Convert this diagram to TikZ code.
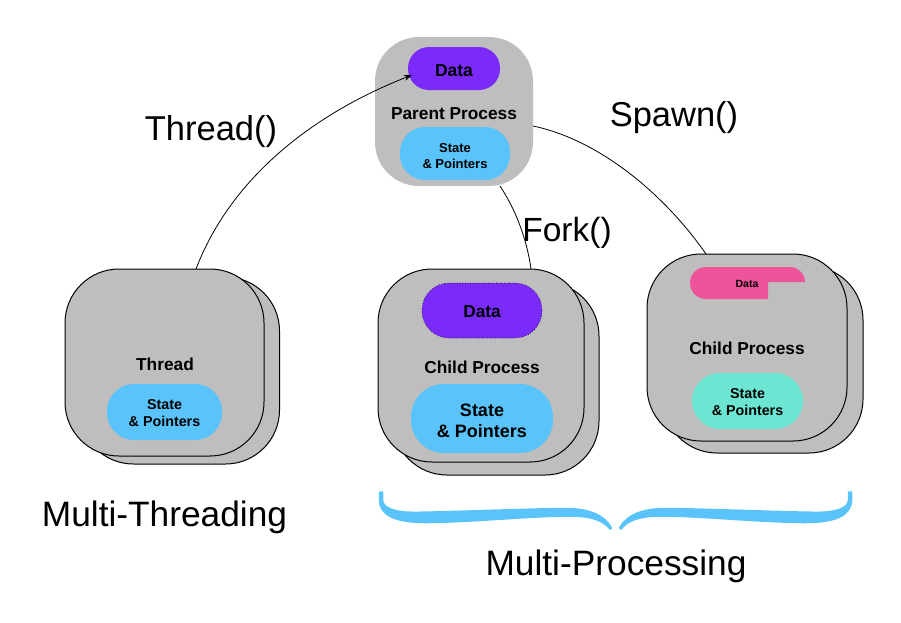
\documentclass[tikz,border=0pt]{standalone}
\usepackage{fontspec}
\setmainfont{Liberation Sans}
\definecolor{boxgrey}{HTML}{BEBEBE}
\definecolor{datapurple}{HTML}{7B2BF9}
\definecolor{stateblue}{HTML}{5AC3FA}
\definecolor{datapink}{HTML}{EE5499}
\definecolor{stateteal}{HTML}{6CE5D2}
\usetikzlibrary{arrows.meta}
\tikzset{
  bsize/.style 2 args={minimum width=#1pt,minimum height=#2pt},
  panel/.style={fill=boxgrey,draw=black,line width=1pt,rounded corners=54pt,inner sep=0pt,outer sep=0pt},
  parentpanel/.style={fill=boxgrey,rounded corners=44pt,inner sep=0pt,outer sep=0pt},
  pill/.style 2 args={inner sep=0pt,outer sep=0pt,align=center,font=\bfseries\fontsize{#1}{#2}\selectfont},
  caption/.style={inner sep=0pt,font=\bfseries\fontsize{17.3}{20}\selectfont},
  bigtext/.style={inner sep=0pt,font=\fontsize{#1}{40}\selectfont},
  bigtext/.default=34.5,
  link/.style={draw=black,line width=0.8pt},
  brace/.style={fill=stateblue,draw=stateblue,line width=1.5pt,line join=round}
}
\newcommand{\topgap}[1]{\rule{0pt}{#1pt}}
\begin{document}
\begin{tikzpicture}[x=1pt,y=-1pt]
\useasboundingbox (0,0) rectangle (901,622);
% parent
\node[parentpanel,bsize={158}{149}] (parent) at (454,111.5) {};
\node[pill={17.5}{20},fill=datapurple,rounded corners=21pt,bsize={92}{43}] (pdata) at (454,68.5) {\topgap{16.6}Data};
\node[caption] (ptext) at (454,114) {Parent Process};
\node[pill={13}{16},fill=stateblue,rounded corners=25pt,bsize={110}{53}] (pstate) at (455,153.5) {\topgap{13.4}State\\\& Pointers};
% thread
\node[panel,bsize={200}{187}] (tback) at (179.5,370.5) {};
\node[panel,bsize={199}{187}] (tfront) at (164.5,362.5) {};
\node[caption] (ttext) at (165,364) {Thread};
\node[pill={14.3}{17},fill=stateblue,rounded corners=27pt,bsize={115}{56}] (tstate) at (164.5,412) {\topgap{12.3}State\\\& Pointers};
% child fork
\node[panel,bsize={206}{193}] (cback) at (496,378.5) {};
\node[panel,bsize={206}{193}] (cfront) at (481,365.5) {};
\node[pill={17.3}{20},fill=datapurple,draw=black,dotted,line width=0.6pt,rounded corners=27pt,bsize={120}{55}] (cdata) at (482,310.5) {\topgap{14.5}Data};
\node[caption] (ctext) at (482,367) {Child Process};
\node[pill={18}{21},fill=stateblue,rounded corners=33pt,bsize={142}{69}] (cstate) at (482,418.5) {\topgap{17}State\\\& Pointers};
% child spawn
\node[panel,bsize={200}{187}] (sback) at (763,359.5) {};
\node[panel,bsize={200}{187}] (sfront) at (747,347.5) {};
\fill[datapink] (768,299) -- (706,299) .. controls (697,299) and (690,292) .. (690,283) .. controls (690,274) and (697,267) .. (706,267) -- (790,267) .. controls (798,267) and (805,274) .. (805,282) -- (768,282) -- cycle;
\node[pill={10.5}{13}] (sdata) at (747,284) {Data};
\node[caption] (stext) at (747,348.5) {Child Process};
\node[pill={14.3}{17},fill=stateteal,rounded corners=28pt,bsize={111}{56}] (sstate) at (747.5,401) {\topgap{12.3}State\\\& Pointers};
% connectors
\draw[link,-{Stealth[length=8pt,width=6pt]}] ([xshift=31.5pt]tfront.north) .. controls (230,180) and (310,115) .. ([shift={(4,6.5)}]pdata.west);
\draw[link] ([xshift=46pt]parent.south) .. controls (516,210) and (527,240) .. ([xshift=50pt]cfront.north);
\draw[link] ([yshift=-14.5pt]parent.east) .. controls (600,140) and (665,195) .. ([xshift=-41pt]sfront.north);
% labels
\node[bigtext] (lthread) at (211,132) {Thread()};
\node[bigtext] (lspawn) at (674,118) {Spawn()};
\node[bigtext=33.5] (lfork) at (567,233) {Fork()};
\node[bigtext=35.3] (lmt) at (164.5,517) {Multi-Threading};
\node[bigtext=35.3] (lmp) at (616,566) {Multi-Processing};
% braces
\filldraw[brace] (379.5,492) -- (382.5,492) -- (382.5,500) .. controls (382.5,508) and (395,512.5) .. (415,512.3) .. controls (450,512) and (520,509) .. (563,508.5) .. controls (590,508) and (605,516) .. (611.5,528) -- (610,529) .. controls (603,520) and (590,516) .. (570,516) .. controls (530,516) and (470,522.5) .. (425,522.5) .. controls (395,522.5) and (379.5,515) .. (379.5,500) -- cycle;
\filldraw[brace] (851.5,492) -- (848.5,492) -- (848.5,500) .. controls (848.5,508) and (836,512.5) .. (816,512.3) .. controls (781,512) and (711,509) .. (668,508.5) .. controls (641,508) and (626,516) .. (619.5,528) -- (621,529) .. controls (628,520) and (641,516) .. (661,516) .. controls (701,516) and (761,522.5) .. (806,522.5) .. controls (836,522.5) and (851.5,515) .. (851.5,500) -- cycle;
\end{tikzpicture}
\end{document}
